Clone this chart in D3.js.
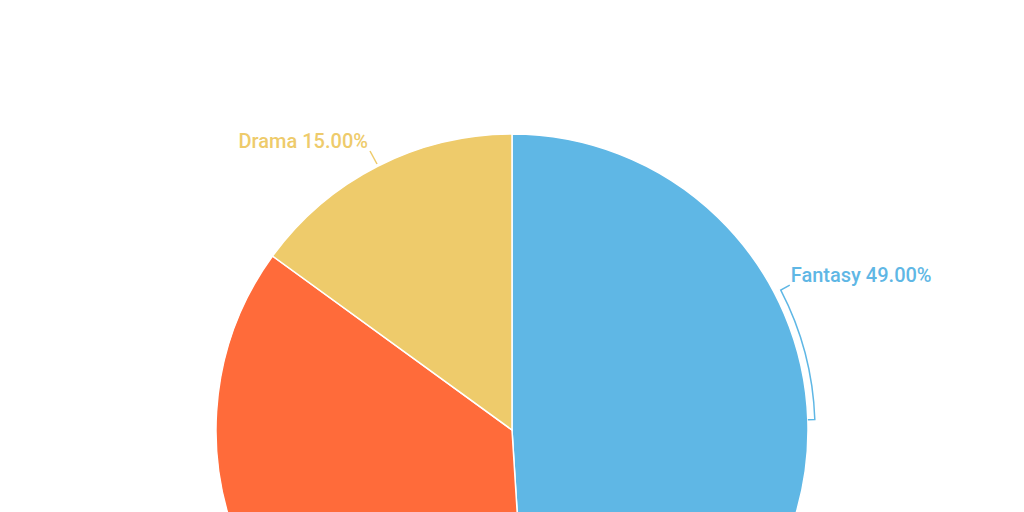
<!DOCTYPE html>
<html><head><meta charset="utf-8">
<script src="https://cdn.jsdelivr.net/npm/d3@7"></script>
<style>body{margin:0;background:#fff}svg{display:block;font-family:Roboto,sans-serif}</style>
</head><body><svg width="1024" height="512"></svg>
<script>
// Data
const genres = ["Fantasy", "Comedy", "Drama"];
const shares = [49, 36, 15];
const colors = ["#5fb7e5", "#ff6b3a", "#eecb6b"];

const svg = d3.select("svg");
const cx = 512, cy = 430, r = 296;
const g = svg.append("g").attr("transform", `translate(${cx},${cy})`);

const pie = d3.pie().sort(null).value(d => d)(shares);
const arc = d3.arc().innerRadius(0).outerRadius(r);

g.selectAll("path.slice").data(pie).enter().append("path")
    .attr("class", "slice")
    .attr("d", arc)
    .attr("fill", (d, i) => colors[i])
    .attr("stroke", "#fff").attr("stroke-width", 1.5);

const fmt = v => v.toFixed(2) + "%";

// Fantasy label: bracket-like leader following the rim
const a0 = Math.PI / 180 * 62.5, a1 = Math.PI / 180 * 88;
const rr = 303;
const pt = (a, rad) => [Math.sin(a) * rad, -Math.cos(a) * rad];
const p1 = pt(a1, r), p2 = pt(a1, rr), p3 = pt(a0, rr);
g.append("path")
    .attr("d", `M${p1}L${p2}A${rr},${rr} 0 0 0 ${p3}L${p3[0] + 9},${p3[1] - 5}`)
    .attr("fill", "none").attr("stroke", colors[0]).attr("stroke-width", 1.5);
g.append("text").attr("x", p3[0] + 10).attr("y", p3[1] - 8)
    .attr("fill", colors[0]).attr("font-size", 20).attr("font-weight", 500)
    .text(`${genres[0]} ${fmt(shares[0])}`);

// Drama label
const da = (pie[2].startAngle + pie[2].endAngle) / 2;
const q1 = pt(Math.PI * 2 - 0.3 - 0.06, r), q2 = [q1[0] - 7, q1[1] - 13];
const dAng = Math.PI * 2 - (2 * Math.PI - (Math.atan2(135, 267)));
const e1 = [377 - cx, 164 - cy], e2 = [370 - cx, 151 - cy];
g.append("path").attr("d", `M${e1}L${e2}`)
    .attr("stroke", colors[2]).attr("stroke-width", 1.5);
g.append("text").attr("x", e2[0] - 2).attr("y", e2[1] - 3)
    .attr("text-anchor", "end")
    .attr("fill", colors[2]).attr("font-size", 20).attr("font-weight", 500)
    .text(`${genres[2]} ${fmt(shares[2])}`);
</script></body></html>
